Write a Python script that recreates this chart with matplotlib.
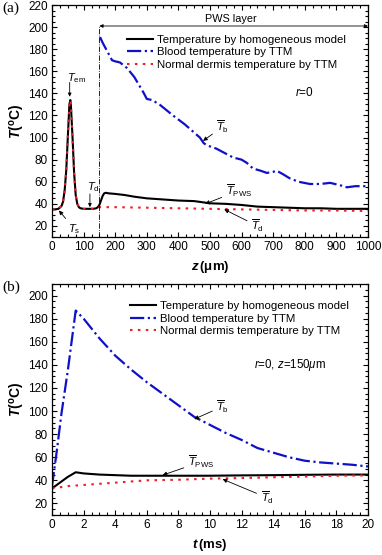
import matplotlib
matplotlib.use('Agg')
import matplotlib.pyplot as plt
from matplotlib.ticker import MultipleLocator, AutoMinorLocator

plt.rcParams['font.family'] = ['Liberation Sans', 'DejaVu Sans']
plt.rcParams['mathtext.fontset'] = 'custom'
plt.rcParams['mathtext.rm'] = 'Liberation Sans'
plt.rcParams['mathtext.it'] = 'Liberation Sans:italic'
plt.rcParams['mathtext.bf'] = 'Liberation Sans:bold'
plt.rcParams['mathtext.bfit'] = 'Liberation Sans:italic:bold'

# ---- panel (a): temperature along depth z
z_hom = [0, 10, 20, 30, 35, 40, 45, 50, 55, 58, 60, 65, 70, 75, 80, 85, 90, 100, 110, 120,
         130, 140, 145, 150, 155, 160, 165, 170, 180, 200, 230, 260, 300, 350, 400, 450,
         500, 550, 600, 650, 700, 750, 800, 850, 900, 950, 1000]
T_hom = [35, 35, 35.5, 38, 42, 52, 70, 100, 130, 134, 128, 100, 68, 48, 40, 37, 36, 35.5, 35.5, 35.5,
         35.5, 36, 37, 39, 43, 47, 49.5, 50, 49.5, 49, 48, 46.5, 45, 44, 43, 42.5,
         40.5, 40, 39, 37.5, 37, 36.5, 36, 36, 35.5, 35.5, 35.5]

z_derm = [0, 10, 20, 30, 35, 40, 45, 50, 55, 58, 60, 65, 70, 75, 80, 85, 90, 100, 110, 120,
          130, 140, 145, 150, 200, 300, 400, 500, 600, 700, 800, 900, 1000]
T_derm = [35, 35, 35.5, 38, 42, 52, 70, 100, 130, 134, 128, 100, 68, 48, 40, 37, 36, 35.5, 35.5, 35.5,
          35.5, 36, 36.5, 37, 37, 36.5, 36, 35.5, 35, 34.5, 34, 34, 33.5]

z_blood = [152, 160, 175, 190, 200, 215, 237, 260, 289, 300, 316, 340, 383, 420, 468, 480, 490,
           520, 573, 600, 617, 636, 660, 680, 700, 711, 730, 753, 780, 816, 850, 880, 910,
           933, 960, 1000]
T_blood = [191, 186, 178, 170, 169, 168, 163, 155, 141, 135, 134, 130, 120, 112, 100, 95, 93,
           90, 82, 80, 77, 72, 70, 68, 69, 70, 67, 63, 60, 58, 58, 59, 57,
           55, 56, 56]

# ---- panel (b): temperature over time at r=0, z=150um
t_hom = [0, 0.5, 1, 1.5, 2, 3, 4, 5, 6, 8, 10, 12, 14, 16, 18, 20]
Tt_hom = [33, 38, 43, 47, 46, 45, 44.5, 44, 44, 44, 44, 44.3, 44.5, 44.8, 45, 45]

t_derm = [0, 0.5, 1, 2, 3, 4, 5, 6, 8, 10, 12, 14, 16, 18, 20]
Tt_derm = [33, 34, 35, 36, 37, 38, 39, 40, 40.5, 41.5, 42, 42.7, 43.3, 44, 44.3]

t_blood = [0, 0.1, 0.3, 0.6, 1, 1.5, 2, 3, 4, 5, 6, 7, 8, 9, 10, 11, 12, 13, 14, 15, 16, 17, 18, 19, 20]
Tt_blood = [35, 45, 65, 98, 135, 187, 180, 163, 148, 136, 125, 115, 105, 95, 88, 81, 75, 68, 64,
            60, 57, 55.5, 54.5, 53.5, 52]

labels = ['Temperature by homogeneous model', 'Blood temperature by TTM',
          'Normal dermis temperature by TTM']

W, H = 382, 555
fig = plt.figure(figsize=(W / 100, H / 100), dpi=100)
ax1 = fig.add_axes([52 / W, 1 - 237 / H, 316 / W, 232 / H])
ax2 = fig.add_axes([52 / W, 1 - 515 / H, 316 / W, 231 / H])

blue = '#1010c8'
red = '#e8202a'
dot = (0, (1.2, 2.6))


def style(ax):
    ax.tick_params(which='both', direction='in', top=True, right=True, labelsize=8.5,
                   width=0.8, pad=3)
    ax.tick_params(which='major', length=3.5)
    ax.tick_params(which='minor', length=2)
    ax.xaxis.set_minor_locator(AutoMinorLocator(4))
    ax.yaxis.set_minor_locator(AutoMinorLocator(4))
    for s in ax.spines.values():
        s.set_linewidth(0.9)


def note(ax, txt, xy, xytext, fs=8):
    ax.annotate(txt, xy=xy, xytext=xytext, fontsize=fs, ha='left', va='center',
                arrowprops=dict(arrowstyle='-|>', lw=0.6, color='black',
                                mutation_scale=6, shrinkA=1, shrinkB=0))


# panel (a)
ax1.plot(z_hom, T_hom, color='black', lw=1.5, label=labels[0])
ax1.plot(z_blood, T_blood, color=blue, lw=1.6, ls='-.', label=labels[1])
ax1.plot(z_derm, T_derm, color=red, lw=1.5, ls=dot, label=labels[2])
ax1.set_xlim(0, 1000)
ax1.set_ylim(10, 220)
ax1.xaxis.set_major_locator(MultipleLocator(100))
ax1.yaxis.set_major_locator(MultipleLocator(20))
style(ax1)
ax1.plot([150, 150], [10, 201], color='black', lw=0.6, ls='-.')
ax1.annotate('', xy=(150, 201), xytext=(1000, 201),
             arrowprops=dict(arrowstyle='<|-|>', lw=0.6, color='black', mutation_scale=5,
                             shrinkA=0, shrinkB=0))
ax1.text(565, 202.5, 'PWS layer', fontsize=7.8, ha='center', va='bottom')
ax1.legend(loc='upper left', bbox_to_anchor=(0.237, 0.87), frameon=False, fontsize=8.2,
           handlelength=2.3, handletextpad=0.3, labelspacing=0.2, borderpad=0,
           borderaxespad=0)
ax1.text(770, 141, r'$r$=0', fontsize=8.5, ha='left', va='center')
ax1.text(48, 154, r'$T_{\rm em}$', fontsize=8, ha='left', va='center')
ax1.annotate('', xy=(56, 137), xytext=(56, 150),
             arrowprops=dict(arrowstyle='-|>', lw=0.6, color='black', mutation_scale=5,
                             shrinkA=0, shrinkB=0))
ax1.text(110, 55, r'$T_{\rm d}$', fontsize=8, ha='left', va='center')
ax1.annotate('', xy=(120, 37), xytext=(120, 49),
             arrowprops=dict(arrowstyle='-|>', lw=0.6, color='black', mutation_scale=5,
                             shrinkA=0, shrinkB=0))
note(ax1, r'$T_{\rm s}$', (22, 34), (52, 17))
note(ax1, r'$\overline{T}_{\rm b}$', (478, 97), (520, 110))
note(ax1, r'$\overline{T}_{\rm PWS}$', (485, 40), (550, 52))
note(ax1, r'$\overline{T}_{\rm d}$', (545, 35), (630, 20))
ax1.set_xlabel(r'$\mathbfit{z}\,$($\mathbf{\mu}$m)', fontsize=9.5, fontweight='bold', labelpad=4)
ax1.set_ylabel(r'$\mathbfit{T}$($\mathbf{^o}$C)', fontsize=10, fontweight='bold', labelpad=1)

# panel (b)
ax2.plot(t_hom, Tt_hom, color='black', lw=1.5, label=labels[0])
ax2.plot(t_blood, Tt_blood, color=blue, lw=1.6, ls='-.', label=labels[1])
ax2.plot(t_derm, Tt_derm, color=red, lw=1.5, ls=dot, label=labels[2])
ax2.set_xlim(0, 20)
ax2.set_ylim(10, 210)
ax2.xaxis.set_major_locator(MultipleLocator(2))
ax2.yaxis.set_major_locator(MultipleLocator(20))
style(ax2)
ax2.legend(loc='upper left', bbox_to_anchor=(0.247, 0.925), frameon=False, fontsize=8.2,
           handlelength=2.3, handletextpad=0.3, labelspacing=0.2, borderpad=0,
           borderaxespad=0)
ax2.text(12.8, 140, r'$r$=0, $z$=150$\mu$m', fontsize=8.3, ha='left', va='center')
note(ax2, r'$\overline{T}_{\rm b}$', (9.0, 93), (10.4, 104))
note(ax2, r'$\overline{T}_{\rm PWS}$', (7.0, 44.5), (8.6, 56))
note(ax2, r'$\overline{T}_{\rm d}$', (10.8, 41), (13.2, 25))
ax2.set_xlabel(r'$\mathbfit{t}\,$(ms)', fontsize=9.5, fontweight='bold', labelpad=4)
ax2.set_ylabel(r'$\mathbfit{T}$($\mathbf{^o}$C)', fontsize=10, fontweight='bold', labelpad=1)

fig.text(2 / W, 1 - 2 / H, '(a)', fontsize=11, family='Liberation Serif', ha='left', va='top')
fig.text(2 / W, 1 - 281 / H, '(b)', fontsize=11, family='Liberation Serif', ha='left', va='top')

fig.savefig('out.png', dpi=100)
